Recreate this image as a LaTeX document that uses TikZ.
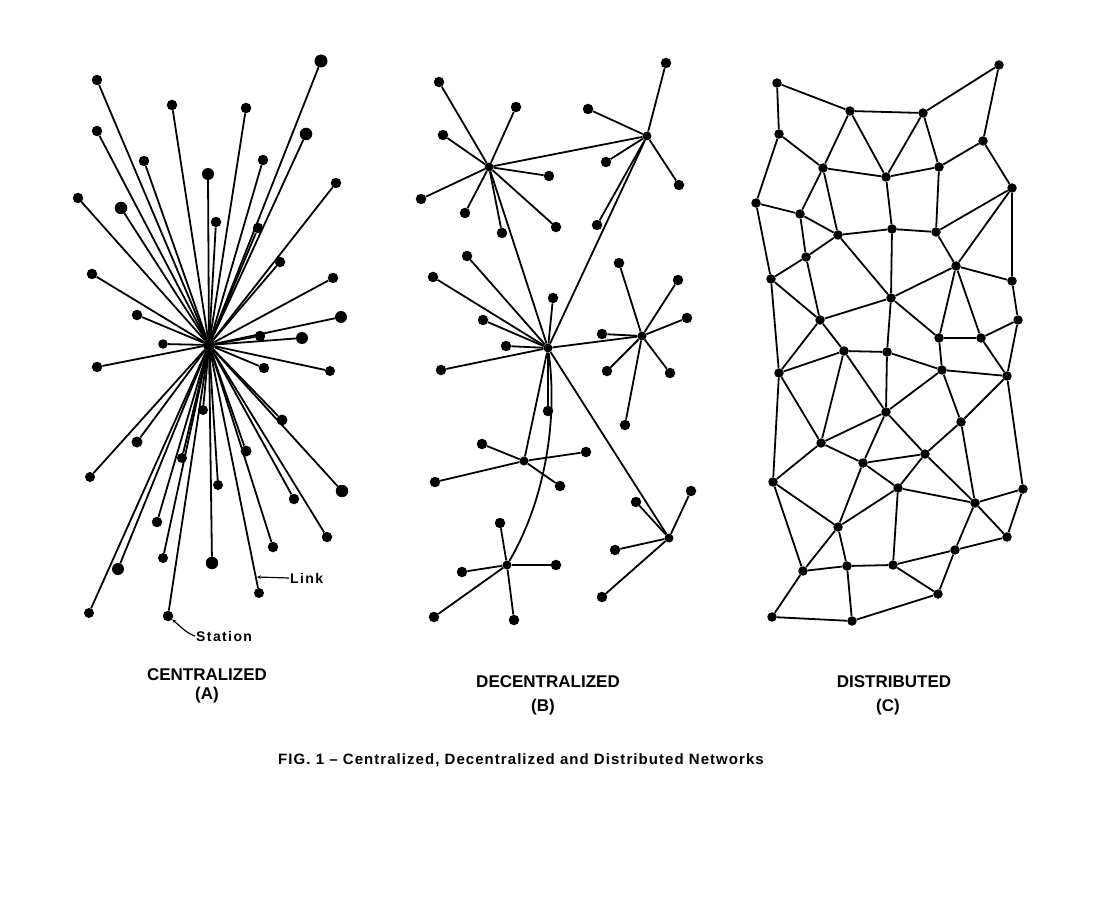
\documentclass[tikz,border=0pt]{standalone}
\usepackage{fontspec}
\setmainfont{Liberation Sans}
\newfontfamily\capfont[LetterSpace=7]{Liberation Sans}
\newfontfamily\smallfont[LetterSpace=10]{Liberation Sans}
\usetikzlibrary{arrows.meta}
\begin{document}
\begin{tikzpicture}[x=1pt,y=-1pt,
  stn/.style={circle,fill=black,inner sep=0pt,minimum size=10.5pt},
  hubdot/.style={circle,fill=black,inner sep=0pt,minimum size=9pt},
  meshdot/.style={circle,fill=black,inner sep=0pt,minimum size=9.5pt},
  lnk/.style={line width=1.8pt,black},
  lbl/.style={inner sep=0pt,font=\bfseries\fontsize{17}{20}\selectfont},
  caplbl/.style={inner sep=0pt,font=\capfont\bfseries\fontsize{15}{18}\selectfont},
  smalllbl/.style={inner sep=1pt,font=\smallfont\bfseries\fontsize{14}{16}\selectfont},
  lead/.style={line width=1.2pt,-{Stealth[length=4pt,width=3.5pt]}}]
\useasboundingbox (0,0) rectangle (1112,912);

% ---------------- (A) centralized ----------------
\node[circle,fill=black,inner sep=0pt,minimum size=12pt] (ha) at (209,345) {};
\foreach \x/\y/\s [count=\i] in {
 97/80/10.5pt, 321/61/13pt, 172/105/10.5pt, 246/108/10.5pt, 97/131/10.5pt,
 306/134/12.5pt, 144/161/10.5pt, 263/160/10.5pt, 208/174/12pt, 336/183/10.5pt,
 78/198/10.5pt, 121/208/12.5pt, 216/222/10.5pt, 258/228/10.5pt, 280/262/10.5pt,
 92/274/10.5pt, 333/278/10.5pt, 137/315/10.5pt, 341/317/12pt, 260/336/10.5pt,
 302/338/12pt, 163/344/9.5pt, 97/367/10.5pt, 264/368/10.5pt, 330/371/10pt,
 203/410/10pt, 282/420/11pt, 137/442/11pt, 246/451/11pt, 182/458/10pt,
 90/477/10pt, 218/485/10pt, 342/491/12.5pt, 294/499/10.5pt, 157/522/10.5pt,
 327/537/10.5pt, 273/547/10.5pt, 163/558/10pt, 212/563/12.5pt, 118/569/12pt,
 259/593/10pt, 89/613/10pt, 168/616/10.5pt}
 {\node[stn,minimum size=\s] (a\i) at (\x,\y) {};}
\foreach \i in {1,...,43} {\draw[lnk] (ha) -- (a\i);}

\node[smalllbl,anchor=west] (linklbl) at (289,578) {Link};
\coordinate (linkpt) at (257,577);
\draw[lead] (linklbl.west) -- (linkpt);
\node[smalllbl,anchor=west] (stnlbl) at (195,636) {Station};
\draw[lead] (stnlbl.west) .. controls (186,633) and (180,626) .. (a43);

\node[lbl] (labA) at (207,675) {CENTRALIZED};
\node[lbl] (labA2) at (207,695) {(A)};

% ---------------- (B) decentralized ----------------
\node[hubdot] (hb1) at (489,167) {};
\node[hubdot] (hb2) at (647,136) {};
\node[hubdot] (hb3) at (548,348) {};
\node[hubdot] (hb4) at (642,336) {};
\node[hubdot] (hb5) at (524,461) {};
\node[hubdot] (hb6) at (507,565) {};
\node[hubdot] (hb7) at (669,538) {};
\draw[lnk] (hb1) -- (hb2);
\draw[lnk] (hb1) -- (hb3);
\draw[lnk] (hb2) -- (hb3);
\draw[lnk] (hb3) -- (hb4);
\draw[lnk] (hb3) -- (hb5);
\draw[lnk] (hb3) -- (hb7);
\draw[lnk] (hb3) .. controls (558,420) and (545,500) .. (hb6);

\foreach \x/\y [count=\i] in {439/82, 516/107, 443/135, 549/176, 421/199, 465/213, 502/233, 556/227}
 {\node[stn] (bA\i) at (\x,\y) {}; \draw[lnk] (hb1) -- (bA\i);}
\foreach \x/\y [count=\i] in {666/63, 588/109, 606/162, 679/185, 597/225}
 {\node[stn] (bB\i) at (\x,\y) {}; \draw[lnk] (hb2) -- (bB\i);}
\foreach \x/\y [count=\i] in {467/256, 433/277, 553/298, 483/320, 506/346, 441/370, 548/411}
 {\node[stn] (bC\i) at (\x,\y) {}; \draw[lnk] (hb3) -- (bC\i);}
\foreach \x/\y [count=\i] in {619/263, 678/280, 687/318, 602/334, 607/371, 670/373, 625/425}
 {\node[stn] (bD\i) at (\x,\y) {}; \draw[lnk] (hb4) -- (bD\i);}
\foreach \x/\y [count=\i] in {482/444, 586/452, 435/482, 560/486}
 {\node[stn] (bE\i) at (\x,\y) {}; \draw[lnk] (hb5) -- (bE\i);}
\foreach \x/\y [count=\i] in {500/523, 462/572, 556/565, 434/617, 514/620}
 {\node[stn] (bF\i) at (\x,\y) {}; \draw[lnk] (hb6) -- (bF\i);}
\foreach \x/\y [count=\i] in {636/502, 691/491, 615/550, 602/597}
 {\node[stn] (bG\i) at (\x,\y) {}; \draw[lnk] (hb7) -- (bG\i);}

\node[lbl] (labB) at (548,682) {DECENTRALIZED};
\node[lbl] (labB2) at (543,707) {(B)};

% ---------------- (C) distributed ----------------
\foreach \x/\y [count=\i] in {
 777/83, 999/65, 850/111, 923/113, 779/134, 983/141, 823/168, 939/167, 886/177, 1012/188,
 756/203, 800/214, 838/235, 892/229, 936/232, 806/257, 956/266, 771/279, 1012/281, 891/298,
 820/320, 1018/320, 939/338, 981/338, 844/351, 887/352, 779/373, 942/370, 1007/376, 886/412,
 961/422, 821/443, 925/454, 863/463, 773/482, 898/488, 1023/489, 975/503, 838/527, 1007/537,
 955/550, 803/571, 847/566, 893/565, 938/594, 772/617, 852/621}
 {\node[meshdot] (c\i) at (\x,\y) {};}
\foreach \u/\v in {
 1/3, 1/5, 3/4, 4/2, 2/6, 3/7, 3/9, 4/9, 4/8, 5/7, 5/11, 7/9, 9/8, 8/6, 6/10,
 7/12, 7/13, 11/12, 12/13, 9/14, 13/14, 14/15, 8/15, 15/10,
 13/16, 12/16, 11/18, 16/18, 16/21, 18/21, 18/27, 13/20, 14/20, 15/17, 10/17,
 10/19, 17/19, 17/20, 17/23, 17/24, 20/21, 20/23, 20/26, 19/22, 22/24, 22/29,
 21/25, 21/27, 23/24, 23/28, 24/29, 25/26, 25/27, 26/28, 28/29, 25/30, 26/30,
 28/30, 28/31, 29/31,
 27/35, 27/32, 25/32, 30/32, 30/34, 30/33, 31/33, 31/38, 29/37, 32/34, 32/35,
 34/33, 34/36, 33/36, 33/38, 36/38, 38/37, 38/40, 37/40, 38/41, 41/40, 34/39,
 36/39, 35/39, 35/42, 39/42, 39/43, 36/44, 42/43, 43/44, 44/41, 44/45, 41/45,
 42/46, 43/47, 46/47, 47/45}
 {\draw[lnk] (c\u) -- (c\v);}

\node[lbl] (labC) at (894,682) {DISTRIBUTED};
\node[lbl] (labC2) at (888,707) {(C)};

% ---------------- caption ----------------
\node[caplbl] (cap) at (521,760) {FIG. 1 – Centralized, Decentralized and Distributed Networks};
\end{tikzpicture}
\end{document}
